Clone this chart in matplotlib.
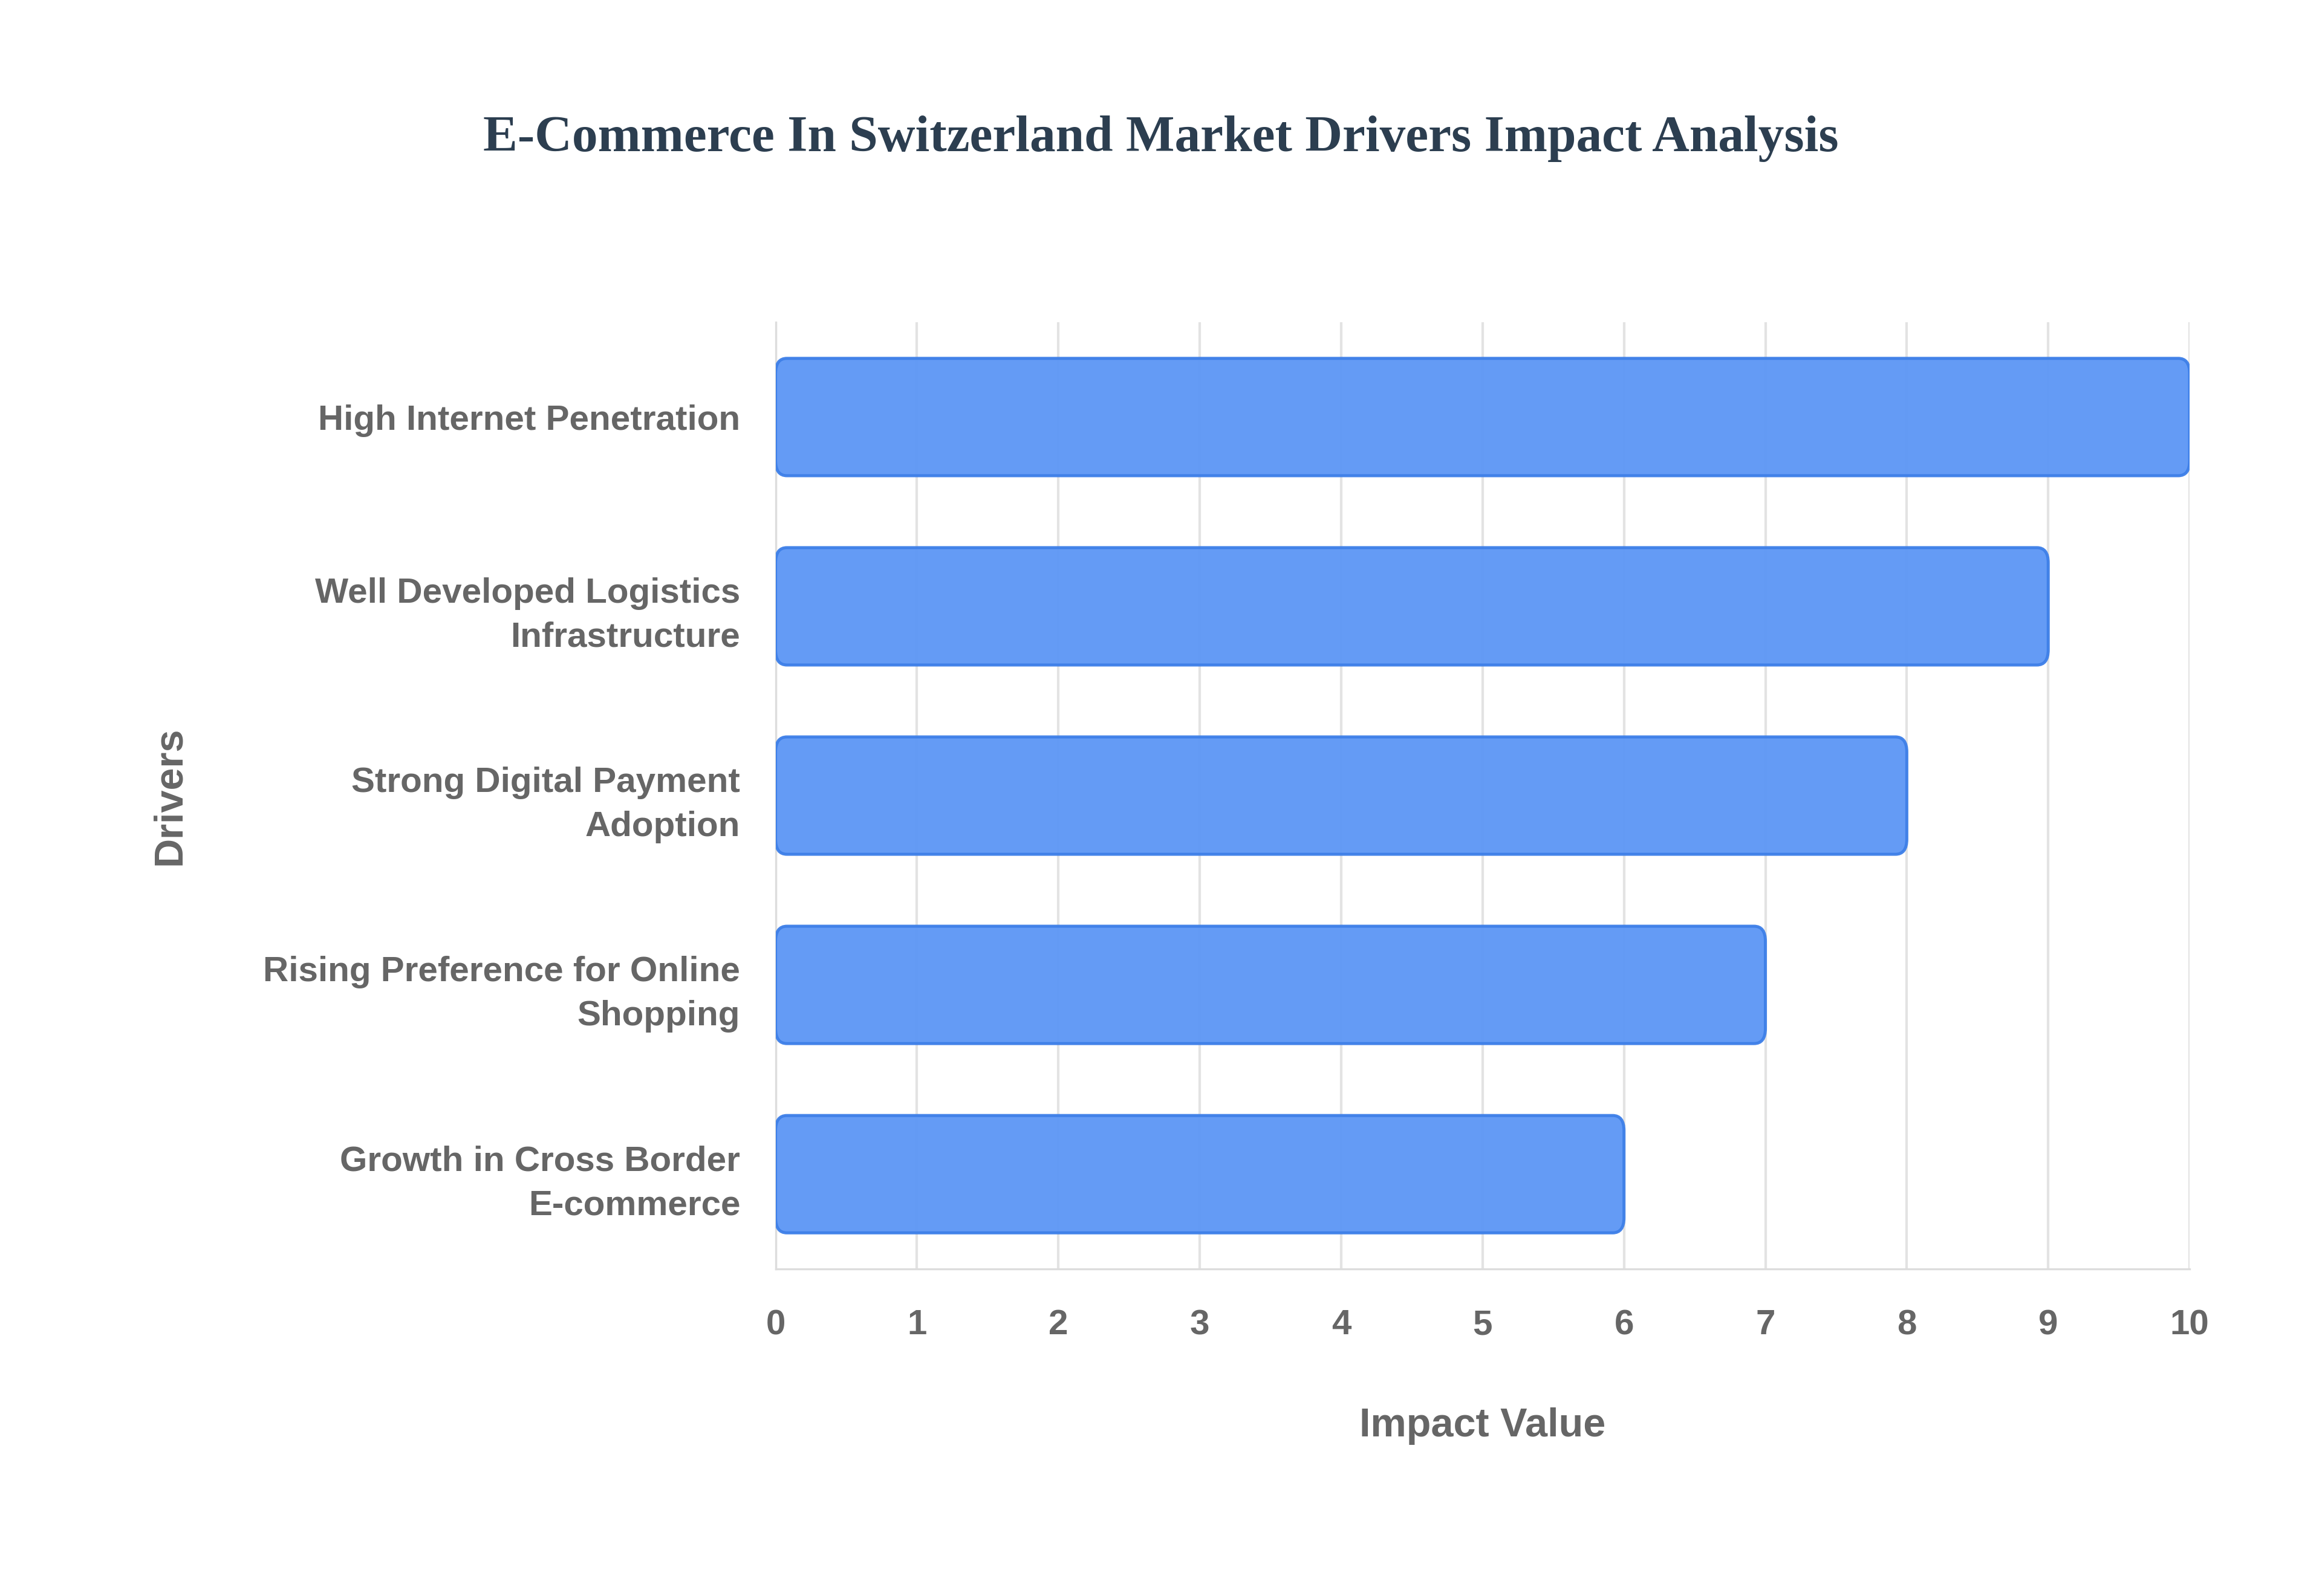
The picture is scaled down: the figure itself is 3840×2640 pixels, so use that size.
import matplotlib
matplotlib.use("Agg")
import matplotlib.pyplot as plt
from matplotlib.patches import FancyBboxPatch

drivers = ["High Internet Penetration", "Well Developed Logistics\nInfrastructure",
           "Strong Digital Payment\nAdoption", "Rising Preference for Online\nShopping",
           "Growth in Cross Border\nE-commerce"]
values = [10, 9, 8, 7, 6]
ticks = list(range(0, 11))

fig = plt.figure(figsize=(12.8, 8.8), dpi=300)
ax = fig.add_axes([0.334, 0.205, 0.609, 0.593])
n = len(drivers)
h = 0.62
for i, (d, v) in enumerate(zip(drivers, values)):
    y = n - 1 - i
    p = FancyBboxPatch((0, y - h / 2), v, h, boxstyle="round,pad=0,rounding_size=0.08",
                       mutation_aspect=1.0, facecolor="#5c96f5", edgecolor="#3d7fe8",
                       linewidth=1.2, alpha=0.95, zorder=3)
    ax.add_patch(p)
ax.set_xlim(0, 10)
ax.set_ylim(-0.5, n - 0.5)
ax.set_yticks(range(n))
ax.set_yticklabels(drivers[::-1], fontsize=14, fontweight="bold", color="#666666",
                   family="Liberation Sans", ha="right", linespacing=1.45)
ax.set_xticks(ticks)
ax.set_xticklabels([str(t) for t in ticks], fontsize=14, fontweight="bold",
                   color="#666666", family="Liberation Sans")
ax.tick_params(axis="y", length=0, pad=14)
ax.tick_params(axis="x", length=0, pad=16)
ax.grid(axis="x", color="#e3e3e3", linewidth=1, zorder=0)
for s in ["top", "right"]:
    ax.spines[s].set_visible(False)
for s in ["left", "bottom"]:
    ax.spines[s].set_color("#dddddd")
ax.set_xlabel("Impact Value", fontsize=16, fontweight="bold", color="#666666",
              family="Liberation Sans", labelpad=26)
ax.set_ylabel("Drivers", fontsize=16, fontweight="bold", color="#666666",
              family="Liberation Sans")
ax.yaxis.set_label_coords(-0.415, 0.5)
fig.text(0.5, 0.913, "E-Commerce In Switzerland Market Drivers Impact Analysis",
         ha="center", va="center", fontsize=20.5, fontweight="bold", color="#2c3e50",
         family="Liberation Serif")
fig.savefig("out.png", dpi=300, facecolor="white")
